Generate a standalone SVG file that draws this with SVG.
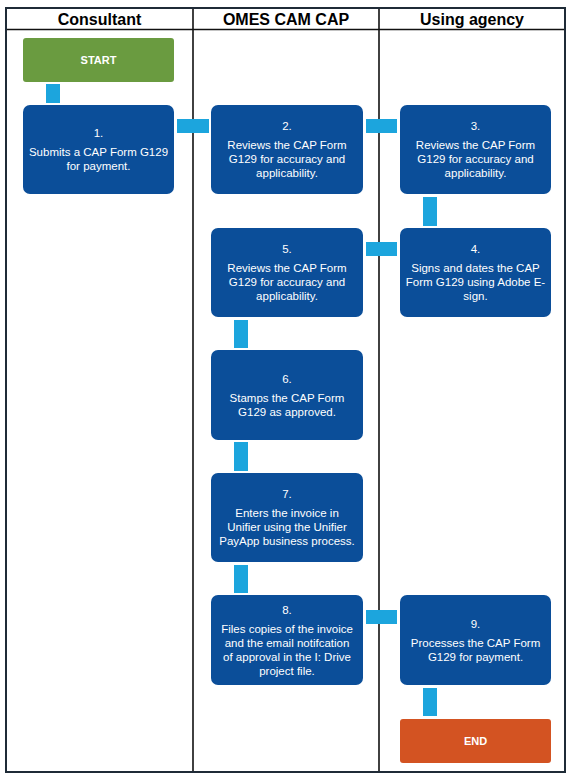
<svg xmlns="http://www.w3.org/2000/svg" width="570" height="780" viewBox="0 0 570 780">
<style>
.hdr{font-family:"Liberation Sans",Arial,sans-serif;font-weight:bold;font-size:16px;fill:#000;text-anchor:middle}
.lane{fill:none;stroke:#111;stroke-width:1.6}
.frame{fill:none;stroke:#1f2b37;stroke-width:2}
.node{fill:#0b4e99}
.t{font-family:"Liberation Sans",Arial,sans-serif;font-size:11.5px;fill:#fff;text-anchor:middle}
.term{font-family:"Liberation Sans",Arial,sans-serif;font-size:11px;font-weight:bold;fill:#fff;text-anchor:middle}
.conn{fill:#1ca5dd}
</style>
<rect width="570" height="780" fill="#fff"/>
<g id="lanes">
<line class="lane" x1="193" y1="8" x2="193" y2="772"/>
<line class="lane" x1="379" y1="8" x2="379" y2="772"/>
<line class="lane" x1="6" y1="29.5" x2="565" y2="29.5"/>
<rect class="frame" x="6" y="8" width="559" height="764"/>
<text class="hdr" x="99.5" y="25">Consultant</text>
<text class="hdr" x="286" y="25">OMES CAM CAP</text>
<text class="hdr" x="472" y="25">Using agency</text>
</g>
<g id="connectors">
<rect class="conn" x="46" y="84" width="14" height="19"/>
<rect class="conn" x="177" y="119" width="32" height="14"/>
<rect class="conn" x="366" y="119" width="31" height="14"/>
<rect class="conn" x="423" y="197" width="14" height="29"/>
<rect class="conn" x="366" y="242" width="31" height="14"/>
<rect class="conn" x="234" y="320" width="14" height="28"/>
<rect class="conn" x="234" y="442" width="14" height="29"/>
<rect class="conn" x="234" y="565" width="14" height="28"/>
<rect class="conn" x="366" y="610" width="31" height="14"/>
<rect class="conn" x="423" y="688" width="14" height="28"/>
</g>
<g id="start">
<rect x="23" y="38" width="151" height="44" rx="3" fill="#6a9b40"/>
<text class="term" x="98.5" y="64">START</text>
</g>
<g id="n1">
<rect class="node" x="23" y="105" width="151" height="89" rx="7"/>
<text class="t" x="98.5" y="137">1.</text>
<text class="t" x="98.5" y="156">Submits a CAP Form G129</text>
<text class="t" x="98.5" y="170">for payment.</text>
</g>
<g id="n2">
<rect class="node" x="211" y="105" width="152" height="89" rx="7"/>
<text class="t" x="287" y="130">2.</text>
<text class="t" x="287" y="149">Reviews the CAP Form</text>
<text class="t" x="287" y="163">G129 for accuracy and</text>
<text class="t" x="287" y="177">applicability.</text>
</g>
<g id="n3">
<rect class="node" x="400" y="105" width="151" height="89" rx="7"/>
<text class="t" x="475.5" y="130">3.</text>
<text class="t" x="475.5" y="149">Reviews the CAP Form</text>
<text class="t" x="475.5" y="163">G129 for accuracy and</text>
<text class="t" x="475.5" y="177">applicability.</text>
</g>
<g id="n4">
<rect class="node" x="400" y="228" width="151" height="89" rx="7"/>
<text class="t" x="475.5" y="253">4.</text>
<text class="t" x="475.5" y="272">Signs and dates the CAP</text>
<text class="t" x="475.5" y="286">Form G129 using Adobe E-</text>
<text class="t" x="475.5" y="300">sign.</text>
</g>
<g id="n5">
<rect class="node" x="211" y="228" width="152" height="89" rx="7"/>
<text class="t" x="287" y="253">5.</text>
<text class="t" x="287" y="272">Reviews the CAP Form</text>
<text class="t" x="287" y="286">G129 for accuracy and</text>
<text class="t" x="287" y="300">applicability.</text>
</g>
<g id="n6">
<rect class="node" x="211" y="350" width="152" height="90" rx="7"/>
<text class="t" x="287" y="382.5">6.</text>
<text class="t" x="287" y="401.5">Stamps the CAP Form</text>
<text class="t" x="287" y="415.5">G129 as approved.</text>
</g>
<g id="n7">
<rect class="node" x="211" y="473" width="152" height="89" rx="7"/>
<text class="t" x="287" y="498">7.</text>
<text class="t" x="287" y="517">Enters the invoice in</text>
<text class="t" x="287" y="531">Unifier using the Unifier</text>
<text class="t" x="287" y="545">PayApp business process.</text>
</g>
<g id="n8">
<rect class="node" x="211" y="595" width="152" height="90" rx="7"/>
<text class="t" x="287" y="613.5">8.</text>
<text class="t" x="287" y="632.5">Files copies of the invoice</text>
<text class="t" x="287" y="646.5">and the email notifcation</text>
<text class="t" x="287" y="660.5">of approval in the I: Drive</text>
<text class="t" x="287" y="674.5">project file.</text>
</g>
<g id="n9">
<rect class="node" x="400" y="595" width="151" height="90" rx="7"/>
<text class="t" x="475.5" y="627.5">9.</text>
<text class="t" x="475.5" y="646.5">Processes the CAP Form</text>
<text class="t" x="475.5" y="660.5">G129 for payment.</text>
</g>
<g id="end">
<rect x="400" y="719" width="151" height="44" rx="3" fill="#d35322"/>
<text class="term" x="475.5" y="745">END</text>
</g>
</svg>
